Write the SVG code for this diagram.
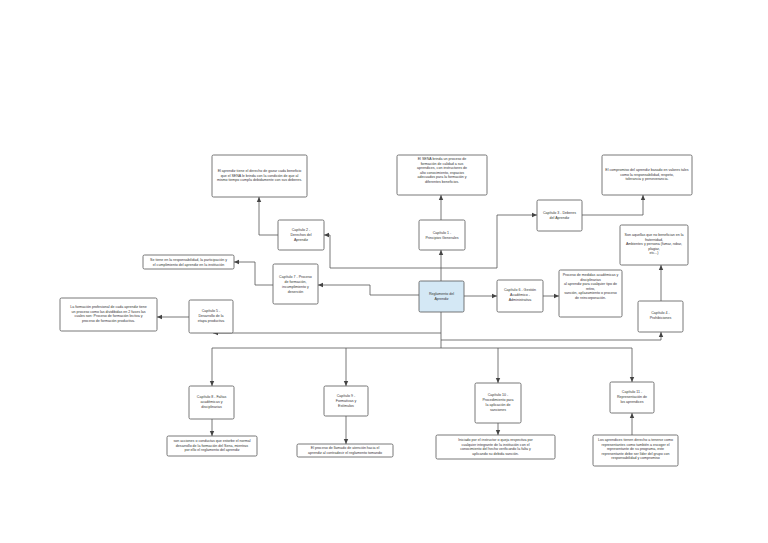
<svg xmlns="http://www.w3.org/2000/svg" width="768" height="543" viewBox="0 0 768 543">
<defs>
<marker id="a" markerWidth="6" markerHeight="6" refX="5" refY="3" orient="auto" markerUnits="userSpaceOnUse"><path d="M0,0.8 L5,3 L0,5.2 z" fill="#444"/></marker>
<style>
.n{fill:#fff;stroke:#555;stroke-width:0.8}
.c{fill:#d4e8f5;stroke:#555;stroke-width:0.8}
.t{font-family:"Liberation Sans",Arial,sans-serif;font-size:3.6px;fill:#333;text-anchor:middle}
.l{fill:none;stroke:#555;stroke-width:0.8;marker-end:url(#a)}
.p{fill:none;stroke:#555;stroke-width:0.8}
</style>
</defs>
<rect width="768" height="543" fill="#fff"/>
<g id="connectors">
<path class="l" d="M441,281 V250"/>
<path class="l" d="M441,220 V195"/>
<path class="p" d="M330,268 H497"/>
<path class="l" d="M330,268 V235 H324"/>
<path class="l" d="M497,268 V215 H537"/>
<path class="l" d="M278,235 H259 V197"/>
<path class="l" d="M582,215 H643 V195"/>
<path class="l" d="M419,295 H370 V285 H318"/>
<path class="l" d="M273,285 H255 V262 H234"/>
<path class="l" d="M464,296 H497"/>
<path class="l" d="M543,296 H559"/>
<path class="l" d="M441,312 V333 H213"/>
<path class="l" d="M189,317 H157"/>
<path class="l" d="M441,333 V340 H661 V332"/>
<path class="l" d="M661,301 V265"/>
<path class="p" d="M441,340 V348 H632 M441,348 H212"/>
<path class="l" d="M212,348 V386"/>
<path class="l" d="M346,348 V386"/>
<path class="l" d="M498,348 V383"/>
<path class="l" d="M632,348 V382"/>
<path class="l" d="M212,419 V436"/>
<path class="l" d="M346,416 V444"/>
<path class="l" d="M498,423 V435"/>
<path class="l" d="M632,435 V413"/>
</g>
<g id="central"><rect class="c" x="419" y="281" width="45" height="31" rx="1.5"/><text class="t" x="441.5" y="295">Reglamento del</text><text class="t" x="441.5" y="300">Aprendiz</text></g>
<g id="cap1"><rect class="n" x="419" y="220" width="46" height="30" rx="1.5"/><text class="t" x="442" y="234">Capítulo 1 -</text><text class="t" x="442" y="239">Principios Generales</text></g>
<g id="cap1d"><rect class="n" x="397" y="155" width="90" height="40" rx="1.5"/><text class="t" x="442" y="160">El SENA brinda un proceso de</text><text class="t" x="442" y="164.5">formación de calidad a sus</text><text class="t" x="442" y="169">aprendices, con instructores de</text><text class="t" x="442" y="173.5">alto conocimiento, espacios</text><text class="t" x="442" y="178">adecuados para la formación y</text><text class="t" x="442" y="182.5">diferentes beneficios.</text></g>
<g id="cap2"><rect class="n" x="278" y="220" width="46" height="30" rx="1.5"/><text class="t" x="301" y="231">Capítulo 2 -</text><text class="t" x="301" y="236">Derechos del</text><text class="t" x="301" y="241">Aprendiz</text></g>
<g id="cap2d"><rect class="n" x="212" y="155" width="95" height="42" rx="1.5"/><text class="t" x="259.5" y="172">El aprendiz tiene el derecho de gozar cada beneficio</text><text class="t" x="259.5" y="176.5">que el SENA le brinda con la condición de que al</text><text class="t" x="259.5" y="181">mismo tiempo cumpla debidamente con sus deberes.</text></g>
<g id="cap7"><rect class="n" x="273" y="264" width="45" height="40" rx="1.5"/><text class="t" x="295.5" y="278">Capítulo 7 - Proceso</text><text class="t" x="295.5" y="283">de formación,</text><text class="t" x="295.5" y="288">incumplimiento y</text><text class="t" x="295.5" y="293">deserción</text></g>
<g id="cap7d"><rect class="n" x="143" y="255" width="91" height="14" rx="1.5"/><text class="t" x="188.5" y="261">Se tiene en la responsabilidad, la participación y</text><text class="t" x="188.5" y="265.5">el cumplimiento del aprendiz en la institución</text></g>
<g id="cap5"><rect class="n" x="189" y="300" width="44" height="33" rx="1.5"/><text class="t" x="211" y="312">Capítulo 5 -</text><text class="t" x="211" y="317">Desarrollo de la</text><text class="t" x="211" y="322">etapa productiva</text></g>
<g id="cap5d"><rect class="n" x="60" y="298" width="97" height="33" rx="1.5"/><text class="t" x="108.5" y="308">La formación profesional de cada aprendiz tiene</text><text class="t" x="108.5" y="312.5">un proceso como las dividibidas en 2 fases las</text><text class="t" x="108.5" y="317">cuales son: Proceso de formación lectiva y</text><text class="t" x="108.5" y="321.5">proceso de formación productiva.</text></g>
<g id="cap3"><rect class="n" x="537" y="200" width="45" height="31" rx="1.5"/><text class="t" x="559.5" y="214">Capítulo 3 - Deberes</text><text class="t" x="559.5" y="219">del Aprendiz</text></g>
<g id="cap3d"><rect class="n" x="602" y="155" width="90" height="40" rx="1.5"/><text class="t" x="647" y="171">El compromiso del aprendiz basado en valores tales</text><text class="t" x="647" y="175.5">como la responsabilidad, respeto,</text><text class="t" x="647" y="180">tolerancia y perseverancia.</text></g>
<g id="cap6"><rect class="n" x="497" y="280" width="46" height="32" rx="1.5"/><text class="t" x="520" y="291">Capítulo 6 - Gestión</text><text class="t" x="520" y="296">Académico -</text><text class="t" x="520" y="301">Administrativa</text></g>
<g id="cap6d"><rect class="n" x="559" y="270" width="63" height="47" rx="1.5"/><text class="t" x="590.5" y="276">Proceso de medidas académicas y</text><text class="t" x="590.5" y="280.5">disciplinarias</text><text class="t" x="590.5" y="285">al aprendiz para cualquier tipo de</text><text class="t" x="590.5" y="289.5">retiro,</text><text class="t" x="590.5" y="294">sanción, aplazamiento o proceso</text><text class="t" x="590.5" y="298.5">de reincorporación.</text></g>
<g id="cap4"><rect class="n" x="638" y="301" width="45" height="31" rx="1.5"/><text class="t" x="660.5" y="314">Capítulo 4 -</text><text class="t" x="660.5" y="319">Prohibiciones</text></g>
<g id="cap4d"><rect class="n" x="620" y="225" width="68" height="40" rx="1.5"/><text class="t" x="654" y="236">Son aquellas que no benefician en la</text><text class="t" x="654" y="240.5">fraternidad,</text><text class="t" x="654" y="245">Ambientes y persona (fumar, robar,</text><text class="t" x="654" y="249.5">plagiar,</text><text class="t" x="654" y="254">etc...)</text></g>
<g id="cap8"><rect class="n" x="189" y="386" width="45" height="33" rx="1.5"/><text class="t" x="211.5" y="398">Capítulo 8 - Faltas</text><text class="t" x="211.5" y="403">académicas y</text><text class="t" x="211.5" y="408">disciplinarias</text></g>
<g id="cap8d"><rect class="n" x="167" y="436" width="90" height="20" rx="1.5"/><text class="t" x="212" y="442">son acciones o conductas que estorbe el normal</text><text class="t" x="212" y="446.5">desarrollo de la formación del Sena, mientras</text><text class="t" x="212" y="451">por ello el reglamento del aprendiz</text></g>
<g id="cap9"><rect class="n" x="324" y="386" width="44" height="30" rx="1.5"/><text class="t" x="346" y="397">Capítulo 9 -</text><text class="t" x="346" y="402">Formativas y</text><text class="t" x="346" y="407">Estímulos</text></g>
<g id="cap9d"><rect class="n" x="297" y="444" width="96" height="13" rx="1.5"/><text class="t" x="345" y="449">El proceso de llamado de atención hacia el</text><text class="t" x="345" y="453.5">aprendiz al contradecir el reglamento tomando</text></g>
<g id="cap10"><rect class="n" x="475" y="383" width="46" height="40" rx="1.5"/><text class="t" x="498" y="396">Capítulo 10 -</text><text class="t" x="498" y="401">Procedimiento para</text><text class="t" x="498" y="406">la aplicación de</text><text class="t" x="498" y="411">sanciones</text></g>
<g id="cap10d"><rect class="n" x="436" y="435" width="119" height="24" rx="1.5"/><text class="t" x="495.5" y="441">Iniciado por el instructor o queja respectiva por</text><text class="t" x="495.5" y="445.5">cualquier integrante de la institución con el</text><text class="t" x="495.5" y="450">conocimiento del hecho verificando la falta y</text><text class="t" x="495.5" y="454.5">aplicando su debida sanción.</text></g>
<g id="cap11"><rect class="n" x="610" y="382" width="44" height="31" rx="1.5"/><text class="t" x="632" y="393">Capítulo 11 -</text><text class="t" x="632" y="398">Representación de</text><text class="t" x="632" y="403">los aprendices</text></g>
<g id="cap11d"><rect class="n" x="593" y="435" width="85" height="31" rx="1.5"/><text class="t" x="635.5" y="441">Los aprendices tienen derecho a tenerse como</text><text class="t" x="635.5" y="445.5">representantes como también a escoger el</text><text class="t" x="635.5" y="450">representante de su programa, este</text><text class="t" x="635.5" y="454.5">representante debe ser líder del grupo con</text><text class="t" x="635.5" y="459">responsabilidad y compromiso</text></g>
</svg>
